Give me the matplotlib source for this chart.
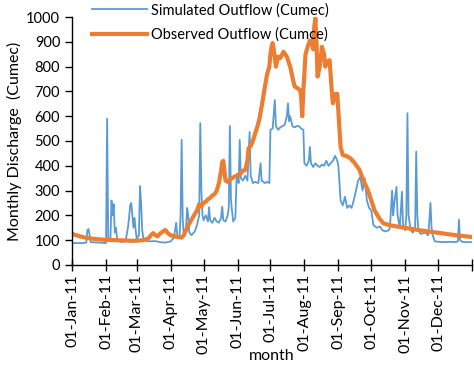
import matplotlib
matplotlib.use('Agg')
import matplotlib.pyplot as plt
import numpy as np
import pandas as pd

plt.rcParams['font.family'] = ['Lato', 'DejaVu Sans']

# simulated outflow: day of year 2011 (0 = 1 Jan) and value (Cumec)
sim_days = [0, 10, 13, 14, 15, 16, 17, 25, 31, 32, 33, 35, 36, 37, 38, 39, 40, 41, 43, 46,
            49, 51, 52, 53, 54, 55, 56, 57, 58, 59, 61, 62, 63, 64, 65, 66, 70, 76, 80, 85,
            90, 93, 95, 96, 98, 99, 100, 101, 102, 104, 105, 106, 107, 109, 112, 114, 116, 117, 118, 119,
            120, 122, 124, 125, 126, 128, 130, 132, 134, 136, 137, 138, 140, 142, 143, 144, 145, 147, 149, 150,
            151, 152, 153, 154, 156, 158, 160, 162, 163, 165, 167, 170, 172, 173, 176, 178, 180, 181, 183, 185,
            186, 188, 190, 192, 194, 196, 197, 198, 199, 201, 203, 205, 207, 209, 211, 212, 214, 216, 217, 218,
            220, 222, 224, 226, 228, 230, 232, 234, 236, 238, 240, 242, 243, 245, 247, 249, 251, 253, 255, 257,
            259, 261, 263, 265, 267, 269, 271, 273, 275, 278, 281, 283, 286, 289, 290, 292, 293, 294, 296, 297,
            299, 301, 302, 304, 305, 306, 307, 309, 311, 313, 314, 315, 316, 318, 322, 325, 326, 327, 328, 329,
            331, 335, 340, 345, 350, 352, 353, 354, 356, 360, 364]
sim_vals = [88, 88, 90, 140, 145, 120, 92, 90, 88, 590, 110, 100, 260, 200, 245, 130, 150, 110, 95, 92,
            100, 150, 190, 240, 250, 200, 150, 190, 140, 105, 120, 318, 250, 140, 110, 100, 95, 96, 92, 90,
            95, 110, 170, 120, 110, 200, 505, 180, 120, 150, 230, 200, 130, 120, 135, 160, 200, 572, 300, 200,
            180, 200, 175, 233, 180, 170, 190, 175, 170, 190, 235, 180, 175, 200, 230, 560, 260, 175, 190, 340,
            360, 330, 504, 350, 340, 360, 340, 536, 360, 330, 335, 330, 410, 340, 330, 335, 330, 545, 550, 665,
            560, 545, 555, 560, 565, 600, 652, 580, 600, 560, 555, 560, 560, 550, 545, 410, 400, 420, 476, 410,
            395, 410, 400, 395, 405, 400, 420, 400, 410, 420, 440, 420, 400, 260, 240, 275, 230, 240, 230, 260,
            300, 340, 355, 300, 350, 260, 230, 220, 160, 150, 155, 140, 135, 140, 150, 300, 200, 250, 315, 200,
            150, 295, 160, 140, 200, 612, 200, 140, 130, 150, 457, 200, 140, 125, 130, 120, 180, 250, 150, 120,
            95, 93, 92, 93, 92, 95, 182, 100, 93, 92, 92]

# observed outflow
obs_days = [0, 5, 10, 15, 20, 25, 30, 35, 40, 45, 50, 55, 60, 65, 68, 70, 72, 74, 76, 78,
            80, 83, 85, 87, 89, 91, 94, 97, 100, 102, 104, 106, 108, 110, 112, 114, 116, 118, 120, 122,
            124, 126, 128, 130, 132, 134, 136, 137, 138, 139, 140, 142, 144, 146, 148, 150, 152, 154, 156, 158,
            160, 161, 163, 165, 167, 169, 171, 173, 174, 176, 178, 180, 181, 182, 183, 184, 186, 188, 190, 193,
            196, 199, 201, 203, 205, 208, 209, 210, 211, 213, 215, 217, 219, 220, 221, 222, 223, 224, 226, 228,
            230, 231, 233, 235, 237, 238, 240, 242, 244, 245, 247, 250, 254, 258, 262, 266, 270, 273, 276, 280,
            284, 290, 300, 310, 320, 330, 340, 350, 358, 364]
obs_vals = [125, 118, 112, 108, 105, 103, 101, 100, 100, 99, 98, 97, 98, 100, 104, 108, 120, 128, 120, 115,
            125, 135, 141, 130, 122, 118, 115, 112, 110, 120, 140, 160, 175, 190, 205, 220, 245, 235, 250, 255,
            265, 270, 280, 285, 300, 330, 380, 415, 420, 380, 340, 335, 345, 350, 355, 360, 365, 370, 380, 383,
            420, 470, 480, 500, 530, 556, 590, 640, 665, 720, 770, 800, 850, 880, 895, 870, 800, 840, 835, 860,
            840, 800, 760, 720, 715, 705, 680, 600, 700, 850, 880, 905, 890, 870, 960, 995, 900, 760, 800, 880,
            850, 800, 820, 826, 700, 652, 690, 690, 550, 476, 443, 440, 430, 410, 385, 340, 300, 260, 220, 190,
            168, 160, 152, 145, 138, 132, 126, 120, 116, 113]

start = pd.Timestamp('2011-01-01')
sim_dates = start + pd.to_timedelta(sim_days, unit='D')
obs_dates = start + pd.to_timedelta(obs_days, unit='D')

month_ticks = pd.date_range('2011-01-01', '2012-01-01', freq='MS')
month_labels = [d.strftime('%d-%b-%y') for d in month_ticks[:-1]] + ['']

fig = plt.figure(figsize=(4.74, 3.71), dpi=100)
ax = fig.add_axes([0.152, 0.286, 0.844, 0.668])

ax.plot(sim_dates, sim_vals, color='#5B9BD5', lw=1.3, label='Simulated Outflow (Cumec)')
ax.plot(obs_dates, obs_vals, color='#ED7D31', lw=3, label='Observed Outflow (Cumce)')

ax.set_xlim(month_ticks[0], month_ticks[-1])
ax.set_ylim(0, 1000)
ax.set_yticks(np.arange(0, 1001, 100))
ax.set_xticks(month_ticks)
ax.set_xticklabels(month_labels, rotation=90)
ax.tick_params(axis='x', direction='inout', length=9, width=1, labelsize=11.5, pad=2)
ax.tick_params(axis='y', direction='out', length=5, width=1, labelsize=10.5)
for s in ['top', 'right']:
    ax.spines[s].set_visible(False)
for s in ['left', 'bottom']:
    ax.spines[s].set_linewidth(1)

ax.set_ylabel('Monthly Discharge  (Cumec)', fontsize=11.5, labelpad=3)
ax.set_xlabel('month', fontsize=11.5, labelpad=-4)

ax.legend(loc='upper left', bbox_to_anchor=(0.035, 1.08), frameon=False, fontsize=10.5,
          handlelength=3.8, handletextpad=0.25, labelspacing=0.7, borderaxespad=0)

fig.savefig('out.png', dpi=100)
